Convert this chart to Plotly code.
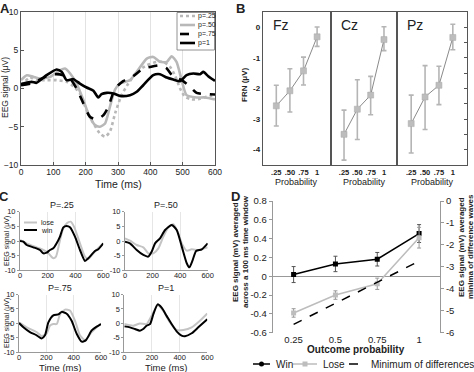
import plotly.graph_objects as go

W, H = 474, 372
def fx(x): return x / W
def fy(y): return 1 - y / H

FONT = "Arial, Liberation Sans, sans-serif"
GRAY = "#b8b8b8"

# ---------------- Panel A data ----------------
a_t_p25 = [0, 28, 48, 79, 110, 141, 162, 182, 203, 224, 244, 260, 275, 291, 311, 332, 358, 389, 420, 440, 461, 476, 492, 507, 528, 554, 574, 600]
a_v_p25 = [0.43, 1.43, 1.09, 1.09, 1.09, 0.87, 0.3, -0.65, -2.83, -4.57, -5.87, -6.3, -5.65, -3.26, -0.87, 0.65, 2.17, 3.04, 3.48, 3.48, 2.83, 1.74, 0.0, -1.09, -1.43, -1.35, -1.09, -0.87]
a_t_p50 = [0, 18, 38, 59, 90, 121, 136, 152, 172, 193, 208, 229, 244, 260, 275, 291, 306, 337, 358, 389, 409, 430, 451, 466, 481, 497, 512, 543, 569, 600]
a_v_p50 = [1.09, 1.74, 1.52, 1.3, 1.52, 2.39, 2.61, 1.96, 0.65, -1.52, -3.26, -4.78, -5.0, -4.57, -2.39, -0.13, 0.65, 1.09, 2.17, 3.91, 4.13, 3.48, 3.48, 4.22, 3.48, 1.09, -0.87, -1.17, -1.17, -1.43]
a_t_p75 = [0, 38, 79, 105, 131, 152, 172, 193, 213, 234, 255, 270, 291, 316, 347, 378, 409, 430, 451, 471, 497, 523, 543, 574, 600]
a_v_p75 = [0.43, 0.74, 1.6, 1.87, 1.74, 1.3, 0.0, -1.96, -3.7, -4.04, -3.48, -2.39, 0.0, 0.96, 1.61, 2.61, 2.91, 3.04, 2.61, 1.52, 1.09, 0.22, -0.57, -0.74, -0.78]
a_t_p1 = [0, 33, 48, 79, 110, 126, 141, 162, 182, 203, 224, 239, 249, 265, 286, 306, 337, 358, 378, 409, 430, 451, 471, 492, 512, 533, 554, 564, 579, 600]
a_v_p1 = [0.57, 0.87, 0.74, 1.74, 2.48, 2.17, 1.09, 1.22, 0.65, 0.13, -0.3, -1.17, -0.74, -0.57, -0.65, -0.96, -0.87, -0.43, 0.43, 1.74, 1.87, 1.43, 1.17, 0.96, 1.74, 1.96, 1.87, 2.17, 1.61, 1.0]
a_labels = ["p=.25", "p=.50", "p=.75", "p=1"]

# ---------------- Panel B data ----------------
b_prob = [0.25, 0.5, 0.75, 1.0]
b_prob_labels = [".25", ".50", ".75", "1"]
b_sites = ["Fz", "Cz", "Pz"]
b_fz = [-2.57, -2.08, -1.43, -0.32]
b_fz_hi = [-1.90, -1.36, -0.98, 0.0]
b_fz_lo = [-3.23, -2.77, -1.89, -0.63]
b_cz = [-3.50, -2.68, -2.22, -0.41]
b_cz_hi = [-2.71, -1.72, -1.61, 0.01]
b_cz_lo = [-4.34, -3.67, -2.86, -0.77]
b_pz = [-3.15, -2.28, -1.90, -0.34]
b_pz_hi = [-2.22, -1.26, -1.28, 0.09]
b_pz_lo = [-4.11, -3.34, -2.53, -0.74]

# ---------------- Panel C data ----------------
c_titles = ["P=.25", "P=.50", "P=.75", "P=1"]
c1_win_t = [0, 24, 48, 96, 144, 168, 192, 216, 240, 264, 288, 312, 336, 360, 396, 432, 468, 492, 540, 564, 600]
c1_win_v = [0, -0.23, -1.36, -2.16, -3.07, -4.2, -3.98, -3.07, -2.5, -0.8, 1.48, 4.66, 5.1, 4.66, 1.48, -3.07, -6.8, -5.9, -3.4, -2.84, -0.8]
c1_lose_t = [0, 48, 120, 168, 204, 240, 259, 283, 307, 336, 365, 389, 432, 468, 492, 540, 600]
c1_lose_v = [0.34, -0.8, -2.16, -3.07, -4.2, -5.9, -5.34, -0.8, 3.75, 6.0, 6.6, 4.9, -0.8, -5.34, -6.1, -3.6, -0.8]
c2_win_t = [0, 36, 85, 133, 169, 194, 218, 254, 291, 339, 375, 412, 448, 467, 491, 516, 557, 600]
c2_win_v = [-0.23, -0.8, -3.07, -4.77, -5.34, -3.6, -0.8, 0.9, 3.75, 5.45, 3.75, -1.93, -7.6, -9.0, -6.5, -3.4, -2.84, -0.8]
c2_lose_t = [0, 36, 85, 133, 169, 206, 242, 278, 315, 351, 387, 412, 448, 484, 533, 600]
c2_lose_v = [0.9, 0.1, -1.36, -2.16, -4.2, -4.2, -2.5, 1.48, 4.66, 5.7, 2.6, -0.8, -3.3, -2.84, -3.07, -2.16]
c3_win_t = [0, 32, 80, 129, 166, 190, 215, 251, 288, 312, 349, 385, 422, 459, 490, 532, 568, 600]
c3_win_v = [0.06, -1.4, -3.07, -4.2, -5.3, -4.2, 0.28, 2.74, 3.07, 3.96, 3.3, 0.84, -3.63, -6.4, -5.87, -2.5, -1.17, -0.28]
c3_lose_t = [0, 56, 129, 166, 202, 227, 251, 276, 300, 337, 373, 410, 446, 483, 532, 600]
c3_lose_v = [0.28, -1.4, -3.07, -4.5, -3.6, -0.84, -0.28, -0.28, 3.07, 4.75, 4.41, 0.84, -4.2, -5.87, -3.07, -0.06]
c4_win_t = [0, 41, 77, 113, 137, 161, 186, 210, 241, 270, 306, 342, 378, 414, 439, 487, 535, 600]
c4_win_v = [-1.09, -1.43, -2.0, -2.57, -2.0, -0.86, -0.29, 3.14, 6.57, 5.43, 2.57, -0.29, -2.8, -4.29, -4.5, -3.49, -1.43, 1.43]
c4_lose_t = [0, 65, 113, 161, 197, 241, 282, 330, 378, 427, 487, 547, 600]
c4_lose_v = [-0.29, -0.86, -0.06, -0.29, 2.57, 6.23, 4.29, 0.29, -2.34, -2.34, -1.43, 0.86, 3.37]

# ---------------- Panel D data ----------------
d_prob = ["0.25", "0.5", "0.75", "1"]
d_win = [0.018, 0.131, 0.181, 0.454]
d_win_err = [0.085, 0.082, 0.072, 0.095]
d_lose = [-0.39, -0.20, -0.08, 0.41]
d_lose_err = [0.045, 0.045, 0.06, 0.11]
d_mindiff = [-5.62, -4.66, -3.70, -2.74]
d_series = ["Win", "Lose", "Minimum of differences"]

fig = go.Figure()

# ---- A traces
for t, v, col, dash in [(a_t_p25, a_v_p25, GRAY, "dot"), (a_t_p50, a_v_p50, GRAY, "solid"),
                        (a_t_p75, a_v_p75, "black", "dash"), (a_t_p1, a_v_p1, "black", "solid")]:
    fig.add_trace(go.Scatter(x=t, y=v, mode="lines", xaxis="x", yaxis="y", showlegend=False,
                             line=dict(color=col, width=2.6, dash=dash, shape="spline", smoothing=0.6)))

# ---- B traces
b_sets = [(b_fz, b_fz_hi, b_fz_lo), (b_cz, b_cz_hi, b_cz_lo), (b_pz, b_pz_hi, b_pz_lo)]
for i, (v, hi, lo) in enumerate(b_sets):
    n = i + 2
    fig.add_trace(go.Scatter(
        x=b_prob, y=v, mode="lines+markers", xaxis=f"x{n}", yaxis=f"y{n}", showlegend=False,
        line=dict(color="#8a8a8a", width=1),
        marker=dict(symbol="square", size=6, color="#bdbdbd", line=dict(color="#a8a8a8", width=0.5)),
        error_y=dict(type="data", array=[h - a for h, a in zip(hi, v)],
                     arrayminus=[a - l for a, l in zip(v, lo)],
                     color="#b5b5b5", thickness=1.6, width=2.5)))

# ---- C traces
c_sets = [(c1_win_t, c1_win_v, c1_lose_t, c1_lose_v), (c2_win_t, c2_win_v, c2_lose_t, c2_lose_v),
          (c3_win_t, c3_win_v, c3_lose_t, c3_lose_v), (c4_win_t, c4_win_v, c4_lose_t, c4_lose_v)]
for i, (wt, wv, lt, lv) in enumerate(c_sets):
    n = i + 5
    fig.add_trace(go.Scatter(x=lt, y=lv, mode="lines", xaxis=f"x{n}", yaxis=f"y{n}", showlegend=False,
                             line=dict(color="#c4c4c4", width=2, shape="spline", smoothing=0.6)))
    fig.add_trace(go.Scatter(x=wt, y=wv, mode="lines", xaxis=f"x{n}", yaxis=f"y{n}", showlegend=False,
                             line=dict(color="black", width=2, shape="spline", smoothing=0.6)))

# ---- D traces
fig.add_trace(go.Scatter(x=d_prob, y=d_win, mode="lines+markers", name=d_series[0], xaxis="x9", yaxis="y9",
                         showlegend=False,
                         line=dict(color="black", width=1.5),
                         marker=dict(symbol="square", size=5, color="black"),
                         error_y=dict(type="data", array=d_win_err, color="#555", thickness=1, width=2)))
fig.add_trace(go.Scatter(x=d_prob, y=d_lose, mode="lines+markers", name=d_series[1], xaxis="x9", yaxis="y9",
                         showlegend=False,
                         line=dict(color="#bdbdbd", width=1.5),
                         marker=dict(symbol="square", size=5, color="#bdbdbd"),
                         error_y=dict(type="data", array=d_lose_err, color="#999", thickness=1, width=2)))
fig.add_trace(go.Scatter(x=d_prob, y=d_mindiff, mode="lines", name=d_series[2],
                         xaxis="x9", yaxis="y10", showlegend=False,
                         line=dict(color="black", width=1.5, dash="dash")))

tickf = lambda s: dict(family=FONT, size=s, color="#222")

layout = dict(
    width=W, height=H, margin=dict(l=0, r=0, t=0, b=0, autoexpand=False),
    paper_bgcolor="white", plot_bgcolor="rgba(0,0,0,0)",
    font=dict(family=FONT, color="#222"),
    showlegend=False,
)

# A axes
layout["xaxis"] = dict(domain=[fx(21), fx(215)], anchor="y", range=[0, 600], tickvals=[0, 100, 200, 300, 400, 500, 600],
                       showline=True, mirror=True, linecolor="#555", linewidth=1, ticks="inside", ticklen=3,
                       tickcolor="#555", showgrid=True, gridcolor="#e2e2e2", zeroline=False, tickfont=tickf(8.5),
                       tickangle=0, ticklabelstandoff=-1)
layout["yaxis"] = dict(domain=[fy(165), fy(12)], anchor="x", range=[-10, 10], tickvals=[-10, -5, 0, 5, 10],
                       showline=True, mirror=True, linecolor="#555", linewidth=1, ticks="inside", ticklen=3,
                       tickcolor="#555", showgrid=False, zeroline=False, tickfont=tickf(8.5))

# B axes
b_dom = [(262.7, 330.7), (330.7, 397.3), (397.3, 466.7)]
for i, (x0, x1) in enumerate(b_dom):
    n = i + 2
    layout[f"xaxis{n}"] = dict(domain=[fx(x0), fx(x1)], anchor=f"y{n}", range=[0, 1.25],
                               tickvals=b_prob, ticktext=[f"<b>{t}</b>" for t in b_prob_labels], tickangle=0,
                               showline=True, mirror=True, linecolor="#555", linewidth=1, ticks="",
                               showgrid=False, zeroline=False, tickfont=tickf(7.5))
    ya = dict(domain=[fy(165), fy(11.7)], anchor=f"x{n}", range=[-4.5, 0.5],
              tickvals=[-4, -3, -2, -1, 0], ticktext=["<b>-4</b>", "<b>-3</b>", "<b>-2</b>", "<b>-1</b>", "<b>0</b>"],
              showline=True, mirror=True, linecolor="#555", linewidth=1, showgrid=False, zeroline=False,
              tickfont=tickf(8), showticklabels=(i == 0), ticks="")
    if i == 2:
        ya.update(side="right", ticks="inside", ticklen=3, tickcolor="#555",
                  tickvals=[-4.5, -4, -3.5, -3, -2.5, -2, -1.5, -1, -0.5, 0])
    layout[f"yaxis{n}"] = ya

# C axes
c_dom = [((20, 103.3), (211.7, 270.3)), ((125, 207.7), (211.7, 270.3)),
         ((19, 101), (294.5, 352)), ((124.3, 207.3), (294.5, 352))]
for i, ((x0, x1), (y0, y1)) in enumerate(c_dom):
    n = i + 5
    layout[f"xaxis{n}"] = dict(domain=[fx(x0), fx(x1)], anchor=f"y{n}", range=[0, 600], tickvals=[0, 200, 400, 600],
                               showline=True, linecolor="#999", linewidth=1, ticks="", showgrid=True, tickangle=0,
                               gridcolor="#e6e6e6", zeroline=False, tickfont=tickf(7.5), ticklabelstandoff=-2)
    layout[f"yaxis{n}"] = dict(domain=[fy(y1), fy(y0)], anchor=f"x{n}", range=[-10, 10],
                               tickvals=[-10, -5, 0, 5, 10], ticktext=["-10", "-5", "0", "5", "10"],
                               showline=True, linecolor="#999", linewidth=1, ticks="outside", ticklen=2,
                               tickcolor="#999", showgrid=False, zeroline=False, tickfont=tickf(7.5))

# D axes
layout["xaxis9"] = dict(domain=[fx(272.7), fx(440)], anchor="y9", type="category", range=[-0.5, 3.5],
                        showline=False, ticks="", showgrid=False, zeroline=False, tickfont=tickf(9.5), tickangle=0)
layout["yaxis9"] = dict(domain=[fy(332.7), fy(201)], anchor="x9", range=[-0.6, 0.8],
                        tickvals=[-0.6, -0.4, -0.2, 0, 0.2, 0.4, 0.6, 0.8],
                        ticktext=["-0.6", "-0.4", "-0.2", "0", "0.2", "0.4", "0.6", "0.8"],
                        showline=True, linecolor="#999", linewidth=1, ticks="outside", ticklen=3, tickcolor="#999",
                        showgrid=False, zeroline=True, zerolinecolor="#999", zerolinewidth=1, tickfont=tickf(9.5))
layout["yaxis10"] = dict(overlaying="y9", anchor="x9", side="right", range=[-6, 0],
                         tickvals=[-6, -5, -4, -3, -2, -1, 0], ticktext=["-6", "-5", "-4", "-3", "-2", "-1", "0"],
                         showline=True, linecolor="#999", linewidth=1, ticks="outside", ticklen=3, tickcolor="#999",
                         showgrid=False, zeroline=False, tickfont=tickf(9.5))

ann = []
def A(x, y, text, size, bold=False, angle=0, xanchor="center", color="#222"):
    ann.append(dict(x=fx(x), y=fy(y), xref="paper", yref="paper", text=f"<b>{text}</b>" if bold else text,
                    showarrow=False, textangle=angle, xanchor=xanchor, yanchor="middle",
                    font=dict(family=FONT, size=size, color=color)))

shapes = []
def line_shape(x0, x1, y, col, width, dash="solid"):
    shapes.append(dict(type="line", xref="paper", yref="paper", x0=fx(x0), x1=fx(x1), y0=fy(y), y1=fy(y),
                       line=dict(color=col, width=width, dash=dash), layer="above"))

# Panel letters
A(5, 9, "A", 13, bold=True)
A(240, 9, "B", 13, bold=True)
A(4, 196, "C", 13, bold=True)
A(235, 196, "D", 13, bold=True)

# A titles
A(5, 88, "EEG signal (μV)", 8.5, angle=-90)
A(118, 184, "Time (ms)", 10.5)

# A legend (compact rows)
shapes.append(dict(type="rect", xref="paper", yref="paper", x0=fx(177), x1=fx(214.5), y0=fy(50), y1=fy(12.5),
                   line=dict(color="#777", width=0.8), fillcolor="white", layer="above"))
leg_rows = [(16, GRAY, "dot"), (25, GRAY, "solid"), (34, "black", "dash"), (43, "black", "solid")]
for (yy, col, dash), lab in zip(leg_rows, a_labels):
    line_shape(180, 195, yy, col, 2.6, dash)
    A(196, yy, lab, 7, xanchor="left")

# B titles
A(244, 85, "FRN (μV)", 8, bold=True, angle=-90)
for (x0, x1), site in zip(b_dom, b_sites):
    A(x0 + 8, 25, site, 14, xanchor="left")
    A((x0 + x1) / 2, 182, "Probability", 9)

# C titles
for ((x0, x1), (y0, y1)), t in zip(c_dom, c_titles):
    A((x0 + x1) / 2, y0 - 7, t, 9)
A(7, 241, "EEG signal (μV)", 7, angle=-90)
A(7, 323, "EEG signal (μV)", 7, angle=-90)
A(60, 367.5, "Time (ms)", 9.5)
A(166, 367.5, "Time (ms)", 9.5)
# C1 legend
line_shape(24, 37, 222.5, "#c4c4c4", 2)
line_shape(24, 37, 230, "black", 2)
A(39, 222.5, "lose", 7, xanchor="left")
A(39, 230, "win", 7, xanchor="left")

# D titles
A(236, 252, "EEG signal (mV) averaged", 8, bold=True, angle=-90)
A(246, 252, "across a 100 ms time window", 8, bold=True, angle=-90)
A(461, 247, "EEG signal (mV) averaged", 8, bold=True, angle=-90)
A(470, 247, "minima of difference waves", 8, bold=True, angle=-90)
A(356, 349, "Outcome probability", 10, bold=True)

# D legend (compact, drawn below the panel)
LY = 364
line_shape(253, 270, LY, "black", 1.5)
shapes.append(dict(type="circle", xref="paper", yref="paper", x0=fx(259), x1=fx(264), y0=fy(LY + 2.5), y1=fy(LY - 2.5),
                   line=dict(color="black", width=0), fillcolor="black", layer="above"))
A(274, LY, d_series[0], 10, xanchor="left")
line_shape(293, 317, LY, "#bdbdbd", 1.5)
shapes.append(dict(type="rect", xref="paper", yref="paper", x0=fx(302.5), x1=fx(307.5), y0=fy(LY + 2.5), y1=fy(LY - 2.5),
                   line=dict(color="#bdbdbd", width=0), fillcolor="#bdbdbd", layer="above"))
A(321, LY, d_series[1], 10, xanchor="left")
line_shape(349, 366, LY, "black", 1.5, "dash")
A(369, LY, d_series[2], 10, xanchor="left")

layout["annotations"] = ann
layout["shapes"] = shapes
fig.update_layout(**layout)
fig.write_html("out.html", config={"displayModeBar": False},
               post_script="document.body.style.margin='0';document.body.style.padding='0';document.body.style.overflow='hidden';")
